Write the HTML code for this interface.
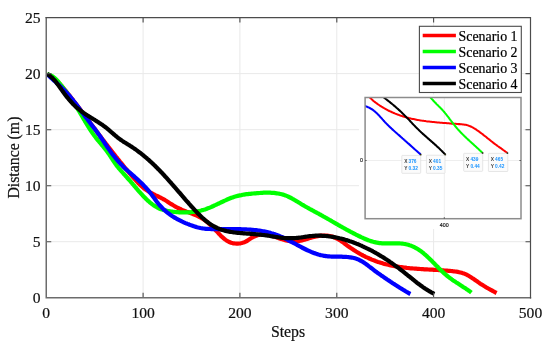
<!DOCTYPE html>
<html><head><meta charset="utf-8"><title>Distance vs Steps</title>
<style>html,body{margin:0;padding:0;background:#fff}svg{display:block}</style></head>
<body>
<svg width="550" height="348" viewBox="0 0 550 348">
<rect width="550" height="348" fill="#fff"/>
<path d="M143.1,17.6 V297.75 M239.9,17.6 V297.75 M336.8,17.6 V297.75 M433.6,17.6 V297.75 M46.25,241.7 H530.5 M46.25,185.7 H530.5 M46.25,129.7 H530.5 M46.25,73.6 H530.5" stroke="#e9e9e9" stroke-width="1" fill="none"/>
<path d="M47.2,74.1 L48.4,74.7 L49.6,75.3 L50.8,76.0 L51.9,76.7 L53.0,77.5 L54.0,78.3 L55.0,79.2 L56.0,80.1 L57.0,81.0 L57.9,82.0 L58.9,83.0 L59.8,84.0 L60.7,85.0 L61.6,86.0 L62.5,87.0 L63.4,88.1 L64.2,89.1 L65.1,90.1 L65.9,91.2 L66.8,92.2 L67.6,93.3 L68.5,94.3 L69.3,95.4 L70.1,96.4 L71.0,97.5 L71.8,98.5 L72.6,99.6 L73.4,100.7 L74.2,101.7 L75.1,102.8 L75.9,103.9 L76.7,104.9 L77.5,106.0 L78.3,107.1 L79.1,108.1 L79.9,109.2 L80.8,110.3 L81.6,111.3 L82.4,112.4 L83.2,113.5 L84.0,114.6 L84.8,115.6 L85.6,116.7 L86.4,117.8 L87.2,118.9 L88.0,119.9 L88.8,121.0 L89.6,122.1 L90.4,123.2 L91.2,124.2 L92.0,125.3 L92.8,126.4 L93.7,127.5 L94.5,128.5 L95.3,129.6 L96.1,130.7 L96.9,131.8 L97.7,132.8 L98.5,133.9 L99.3,135.0 L100.1,136.1 L100.9,137.1 L101.7,138.2 L102.5,139.3 L103.4,140.3 L104.2,141.4 L105.0,142.5 L105.8,143.6 L106.6,144.6 L107.4,145.7 L108.3,146.8 L109.1,147.8 L109.9,148.9 L110.7,149.9 L111.6,151.0 L112.4,152.1 L113.2,153.1 L114.0,154.2 L114.9,155.2 L115.7,156.3 L116.6,157.4 L117.4,158.4 L118.2,159.5 L119.1,160.5 L119.9,161.6 L120.8,162.6 L121.6,163.6 L122.5,164.7 L123.3,165.7 L124.2,166.8 L125.0,167.8 L125.9,168.8 L126.8,169.9 L127.6,170.9 L128.5,171.9 L129.4,173.0 L130.3,174.0 L131.1,175.0 L132.0,176.0 L132.9,177.1 L133.8,178.1 L134.7,179.1 L135.6,180.1 L136.5,181.1 L137.4,182.1 L138.3,183.1 L139.3,184.0 L140.2,185.0 L141.2,185.9 L142.2,186.8 L143.2,187.7 L144.2,188.5 L145.3,189.3 L146.4,190.1 L147.5,190.8 L148.6,191.5 L149.8,192.2 L150.9,192.9 L152.1,193.5 L153.3,194.1 L154.5,194.7 L155.7,195.3 L157.0,195.9 L158.2,196.5 L159.4,197.1 L160.6,197.7 L161.8,198.3 L163.0,199.0 L164.2,199.6 L165.3,200.3 L166.5,201.0 L167.6,201.7 L168.7,202.5 L169.8,203.2 L170.9,203.9 L172.1,204.6 L173.2,205.3 L174.4,206.0 L175.5,206.7 L176.7,207.3 L177.9,207.9 L179.1,208.5 L180.3,209.0 L181.6,209.6 L182.8,210.1 L184.1,210.6 L185.4,211.1 L186.6,211.6 L187.9,212.1 L189.2,212.5 L190.4,213.0 L191.7,213.5 L193.0,214.0 L194.2,214.6 L195.4,215.1 L196.7,215.6 L197.9,216.2 L199.1,216.8 L200.3,217.4 L201.4,218.1 L202.6,218.8 L203.7,219.5 L204.8,220.2 L205.8,221.0 L206.9,221.8 L207.9,222.7 L208.9,223.6 L209.9,224.5 L210.9,225.4 L211.8,226.3 L212.8,227.3 L213.8,228.3 L214.7,229.3 L215.6,230.2 L216.6,231.2 L217.5,232.2 L218.4,233.2 L219.4,234.2 L220.3,235.2 L221.3,236.2 L222.3,237.1 L223.3,238.0 L224.3,238.8 L225.3,239.6 L226.4,240.4 L227.5,241.1 L228.7,241.7 L229.9,242.2 L231.1,242.7 L232.4,243.1 L233.7,243.3 L235.1,243.5 L236.5,243.6 L237.9,243.6 L239.2,243.5 L240.6,243.3 L241.9,243.0 L243.3,242.6 L244.5,242.2 L245.7,241.6 L246.9,241.0 L248.0,240.2 L249.1,239.5 L250.2,238.8 L251.4,238.0 L252.5,237.4 L253.7,236.7 L254.9,236.2 L256.2,235.7 L257.4,235.2 L258.7,234.9 L260.0,234.6 L261.3,234.4 L262.6,234.3 L263.9,234.3 L265.2,234.4 L266.5,234.5 L267.8,234.8 L269.1,235.1 L270.4,235.4 L271.7,235.8 L273.0,236.2 L274.3,236.6 L275.7,237.1 L277.0,237.6 L278.3,238.0 L279.6,238.5 L280.9,238.9 L282.3,239.3 L283.6,239.7 L284.9,240.1 L286.2,240.4 L287.5,240.7 L288.9,240.9 L290.2,241.1 L291.5,241.3 L292.8,241.4 L294.1,241.4 L295.4,241.4 L296.7,241.3 L298.0,241.2 L299.3,240.9 L300.6,240.7 L301.9,240.4 L303.3,240.0 L304.6,239.7 L305.9,239.3 L307.2,238.9 L308.5,238.5 L309.8,238.1 L311.1,237.7 L312.4,237.3 L313.8,236.9 L315.1,236.6 L316.5,236.3 L317.8,236.1 L319.1,235.9 L320.5,235.7 L321.8,235.6 L323.2,235.5 L324.5,235.5 L325.8,235.5 L327.1,235.6 L328.4,235.8 L329.7,236.0 L331.0,236.3 L332.2,236.6 L333.4,237.0 L334.6,237.5 L335.8,238.0 L337.0,238.6 L338.1,239.2 L339.3,239.9 L340.4,240.6 L341.5,241.4 L342.6,242.1 L343.7,242.9 L344.8,243.7 L345.9,244.5 L347.0,245.4 L348.2,246.2 L349.3,247.0 L350.4,247.8 L351.5,248.5 L352.7,249.3 L353.8,250.1 L355.0,250.8 L356.1,251.5 L357.3,252.2 L358.5,252.9 L359.6,253.6 L360.8,254.3 L362.0,254.9 L363.2,255.6 L364.4,256.2 L365.6,256.8 L366.9,257.4 L368.1,257.9 L369.3,258.5 L370.5,259.0 L371.8,259.6 L373.0,260.1 L374.3,260.5 L375.5,261.0 L376.8,261.5 L378.0,261.9 L379.3,262.3 L380.6,262.7 L381.9,263.1 L383.1,263.5 L384.4,263.9 L385.7,264.2 L387.0,264.5 L388.3,264.8 L389.6,265.1 L390.9,265.4 L392.2,265.7 L393.5,265.9 L394.8,266.2 L396.1,266.4 L397.5,266.6 L398.8,266.8 L400.1,267.0 L401.4,267.2 L402.8,267.4 L404.1,267.6 L405.4,267.7 L406.8,267.9 L408.1,268.0 L409.4,268.2 L410.8,268.3 L412.1,268.4 L413.5,268.5 L414.8,268.6 L416.2,268.7 L417.5,268.8 L418.9,268.9 L420.2,269.0 L421.6,269.1 L422.9,269.2 L424.3,269.3 L425.6,269.3 L427.0,269.4 L428.3,269.5 L429.7,269.6 L431.0,269.6 L432.4,269.7 L433.7,269.8 L435.1,269.9 L436.4,269.9 L437.8,270.0 L439.1,270.1 L440.5,270.2 L441.8,270.3 L443.2,270.4 L444.5,270.5 L445.9,270.6 L447.2,270.7 L448.5,270.8 L449.9,270.9 L451.2,271.0 L452.6,271.2 L453.9,271.3 L455.2,271.5 L456.5,271.7 L457.8,271.9 L459.1,272.2 L460.4,272.5 L461.7,272.8 L462.9,273.2 L464.2,273.6 L465.4,274.1 L466.6,274.7 L467.8,275.3 L469.0,276.0 L470.2,276.7 L471.3,277.4 L472.4,278.2 L473.6,278.9 L474.7,279.7 L475.8,280.5 L477.0,281.3 L478.1,282.1 L479.2,282.9 L480.3,283.7 L481.5,284.4 L482.6,285.1 L483.7,285.8 L484.9,286.5 L486.0,287.2 L487.2,287.9 L488.3,288.5 L489.5,289.2 L490.7,289.8 L491.8,290.4 L493.0,291.1 L494.2,291.7 L495.4,292.4 L496.6,293.0" stroke="#ff0000" stroke-width="4.2" fill="none" stroke-linejoin="round" stroke-linecap="butt"/>
<path d="M47.2,74.1 L48.5,74.5 L49.7,74.9 L50.9,75.5 L52.0,76.1 L53.1,76.8 L54.1,77.6 L55.1,78.4 L56.0,79.3 L56.9,80.2 L57.8,81.2 L58.7,82.2 L59.5,83.2 L60.3,84.3 L61.2,85.3 L62.0,86.3 L62.8,87.4 L63.6,88.4 L64.4,89.5 L65.2,90.5 L66.0,91.6 L66.8,92.6 L67.6,93.7 L68.3,94.7 L69.1,95.8 L69.9,96.9 L70.6,97.9 L71.4,99.0 L72.1,100.1 L72.8,101.2 L73.6,102.2 L74.3,103.3 L75.0,104.4 L75.7,105.5 L76.4,106.6 L77.1,107.8 L77.7,108.9 L78.4,110.0 L79.1,111.1 L79.7,112.2 L80.4,113.4 L81.1,114.5 L81.7,115.6 L82.4,116.7 L83.0,117.9 L83.7,119.0 L84.4,120.1 L85.0,121.3 L85.7,122.4 L86.4,123.5 L87.0,124.6 L87.7,125.7 L88.4,126.8 L89.1,127.9 L89.8,129.0 L90.5,130.1 L91.2,131.2 L92.0,132.3 L92.7,133.4 L93.4,134.4 L94.2,135.5 L95.0,136.5 L95.8,137.6 L96.6,138.6 L97.4,139.6 L98.2,140.6 L99.1,141.6 L99.9,142.6 L100.8,143.6 L101.6,144.6 L102.4,145.6 L103.3,146.6 L104.1,147.7 L104.9,148.7 L105.7,149.7 L106.5,150.7 L107.3,151.8 L108.1,152.9 L108.8,153.9 L109.6,155.0 L110.3,156.1 L111.0,157.2 L111.7,158.2 L112.4,159.3 L113.1,160.4 L113.9,161.5 L114.6,162.6 L115.3,163.7 L116.1,164.7 L116.8,165.7 L117.6,166.8 L118.4,167.8 L119.3,168.8 L120.1,169.8 L121.0,170.7 L121.8,171.7 L122.7,172.7 L123.6,173.6 L124.4,174.6 L125.3,175.5 L126.2,176.5 L127.0,177.5 L127.9,178.5 L128.8,179.5 L129.6,180.4 L130.5,181.4 L131.3,182.4 L132.2,183.4 L133.0,184.4 L133.9,185.4 L134.7,186.4 L135.6,187.4 L136.4,188.4 L137.3,189.4 L138.1,190.4 L139.0,191.4 L139.9,192.3 L140.8,193.3 L141.7,194.3 L142.5,195.3 L143.4,196.2 L144.4,197.2 L145.3,198.1 L146.2,199.1 L147.2,200.0 L148.1,200.9 L149.1,201.7 L150.1,202.6 L151.1,203.4 L152.1,204.2 L153.1,204.9 L154.2,205.7 L155.3,206.3 L156.4,207.0 L157.5,207.6 L158.6,208.2 L159.8,208.7 L161.0,209.2 L162.2,209.6 L163.5,210.0 L164.7,210.3 L166.0,210.6 L167.3,210.9 L168.6,211.1 L169.9,211.3 L171.2,211.5 L172.6,211.7 L173.9,211.8 L175.2,212.0 L176.5,212.1 L177.9,212.2 L179.2,212.3 L180.5,212.3 L181.8,212.4 L183.1,212.4 L184.5,212.4 L185.8,212.4 L187.1,212.4 L188.4,212.3 L189.7,212.3 L191.0,212.2 L192.3,212.0 L193.6,211.9 L194.9,211.7 L196.2,211.5 L197.4,211.3 L198.7,211.0 L200.0,210.8 L201.2,210.5 L202.5,210.1 L203.7,209.8 L205.0,209.4 L206.2,209.0 L207.4,208.5 L208.6,208.1 L209.8,207.6 L211.0,207.1 L212.3,206.5 L213.4,206.0 L214.6,205.4 L215.8,204.9 L217.0,204.3 L218.2,203.7 L219.4,203.2 L220.6,202.6 L221.8,202.0 L223.0,201.5 L224.2,200.9 L225.4,200.4 L226.6,199.8 L227.8,199.3 L229.0,198.8 L230.2,198.3 L231.4,197.8 L232.6,197.4 L233.8,197.0 L235.1,196.6 L236.3,196.2 L237.6,195.9 L238.8,195.6 L240.1,195.3 L241.4,195.1 L242.7,194.8 L243.9,194.6 L245.2,194.4 L246.5,194.2 L247.8,194.1 L249.1,193.9 L250.4,193.8 L251.7,193.6 L253.1,193.5 L254.4,193.4 L255.7,193.3 L257.0,193.2 L258.3,193.1 L259.6,193.0 L261.0,192.9 L262.3,192.8 L263.6,192.7 L264.9,192.7 L266.2,192.7 L267.6,192.7 L268.9,192.7 L270.2,192.7 L271.5,192.8 L272.8,192.8 L274.1,192.9 L275.4,193.1 L276.7,193.3 L277.9,193.5 L279.2,193.7 L280.5,194.0 L281.7,194.3 L283.0,194.6 L284.2,195.0 L285.4,195.4 L286.6,195.9 L287.8,196.4 L289.0,197.0 L290.1,197.5 L291.3,198.1 L292.5,198.8 L293.6,199.4 L294.7,200.1 L295.9,200.8 L297.0,201.4 L298.1,202.1 L299.3,202.8 L300.4,203.5 L301.5,204.2 L302.6,204.9 L303.8,205.5 L304.9,206.2 L306.1,206.9 L307.2,207.5 L308.3,208.1 L309.5,208.8 L310.6,209.4 L311.8,210.0 L312.9,210.6 L314.1,211.3 L315.2,211.9 L316.4,212.5 L317.5,213.1 L318.7,213.7 L319.8,214.4 L321.0,215.0 L322.1,215.7 L323.2,216.3 L324.4,216.9 L325.5,217.6 L326.6,218.2 L327.8,218.9 L328.9,219.5 L330.1,220.2 L331.2,220.8 L332.3,221.5 L333.5,222.2 L334.6,222.8 L335.7,223.5 L336.9,224.1 L338.0,224.8 L339.1,225.4 L340.3,226.1 L341.4,226.7 L342.6,227.4 L343.7,228.0 L344.8,228.6 L346.0,229.3 L347.1,229.9 L348.3,230.5 L349.4,231.1 L350.6,231.8 L351.8,232.4 L352.9,233.0 L354.1,233.6 L355.2,234.2 L356.4,234.8 L357.6,235.4 L358.8,236.0 L359.9,236.5 L361.1,237.1 L362.3,237.6 L363.5,238.2 L364.7,238.7 L365.9,239.2 L367.1,239.7 L368.3,240.2 L369.5,240.6 L370.7,241.1 L372.0,241.4 L373.2,241.8 L374.5,242.1 L375.7,242.4 L377.0,242.7 L378.3,242.9 L379.5,243.1 L380.8,243.2 L382.1,243.3 L383.4,243.3 L384.8,243.4 L386.1,243.4 L387.4,243.4 L388.7,243.4 L390.1,243.3 L391.4,243.3 L392.7,243.3 L394.1,243.3 L395.4,243.3 L396.7,243.3 L398.0,243.4 L399.3,243.4 L400.7,243.5 L402.0,243.6 L403.2,243.8 L404.5,244.0 L405.8,244.2 L407.1,244.5 L408.3,244.8 L409.5,245.2 L410.8,245.6 L412.0,246.1 L413.1,246.6 L414.3,247.2 L415.5,247.8 L416.6,248.4 L417.7,249.1 L418.8,249.8 L419.9,250.6 L421.0,251.3 L422.1,252.1 L423.1,252.9 L424.1,253.8 L425.1,254.6 L426.1,255.5 L427.1,256.4 L428.0,257.3 L429.0,258.2 L429.9,259.1 L430.9,260.0 L431.8,260.9 L432.7,261.9 L433.6,262.8 L434.5,263.7 L435.4,264.7 L436.3,265.6 L437.3,266.5 L438.2,267.5 L439.1,268.4 L440.0,269.3 L440.9,270.2 L441.9,271.1 L442.8,272.0 L443.7,272.9 L444.7,273.8 L445.7,274.6 L446.7,275.5 L447.7,276.3 L448.7,277.1 L449.7,277.9 L450.8,278.6 L451.8,279.4 L452.9,280.2 L454.0,280.9 L455.1,281.6 L456.2,282.4 L457.3,283.1 L458.4,283.8 L459.5,284.5 L460.6,285.2 L461.7,285.9 L462.8,286.7 L463.9,287.4 L465.0,288.1 L466.1,288.8 L467.1,289.6 L468.2,290.3 L469.3,291.1 L470.4,291.8 L471.4,292.6" stroke="#00ff00" stroke-width="4.2" fill="none" stroke-linejoin="round" stroke-linecap="butt"/>
<path d="M47.2,74.1 L48.0,74.9 L48.8,75.7 L49.6,76.4 L50.4,77.2 L51.2,78.0 L52.1,78.7 L52.9,79.5 L53.7,80.3 L54.5,81.0 L55.4,81.8 L56.2,82.5 L57.0,83.3 L57.8,84.1 L58.7,84.8 L59.5,85.6 L60.3,86.3 L61.1,87.1 L61.9,87.9 L62.7,88.7 L63.5,89.5 L64.3,90.3 L65.1,91.1 L65.9,91.9 L66.6,92.7 L67.4,93.5 L68.1,94.3 L68.9,95.2 L69.6,96.0 L70.3,96.8 L71.0,97.7 L71.7,98.6 L72.4,99.4 L73.1,100.3 L73.8,101.2 L74.5,102.1 L75.2,103.0 L75.9,103.8 L76.6,104.7 L77.2,105.6 L77.9,106.5 L78.6,107.4 L79.2,108.3 L79.9,109.2 L80.5,110.2 L81.2,111.1 L81.9,112.0 L82.5,112.9 L83.2,113.8 L83.9,114.7 L84.5,115.6 L85.2,116.5 L85.9,117.4 L86.6,118.3 L87.2,119.1 L87.9,120.0 L88.6,120.9 L89.3,121.8 L90.0,122.7 L90.6,123.6 L91.3,124.5 L92.0,125.4 L92.7,126.3 L93.4,127.1 L94.0,128.0 L94.7,128.9 L95.4,129.8 L96.1,130.7 L96.7,131.6 L97.4,132.5 L98.0,133.4 L98.7,134.3 L99.4,135.2 L100.0,136.1 L100.6,137.1 L101.3,138.0 L101.9,138.9 L102.5,139.8 L103.2,140.8 L103.8,141.7 L104.4,142.6 L105.0,143.6 L105.7,144.5 L106.3,145.4 L106.9,146.4 L107.5,147.3 L108.2,148.2 L108.8,149.1 L109.5,150.0 L110.1,151.0 L110.8,151.9 L111.4,152.8 L112.1,153.7 L112.8,154.6 L113.5,155.5 L114.2,156.3 L114.9,157.2 L115.6,158.1 L116.3,159.0 L117.0,159.8 L117.7,160.7 L118.4,161.5 L119.2,162.4 L119.9,163.2 L120.7,164.0 L121.4,164.8 L122.2,165.6 L123.0,166.4 L123.8,167.2 L124.6,168.0 L125.4,168.8 L126.2,169.5 L127.1,170.3 L127.9,171.0 L128.8,171.8 L129.6,172.5 L130.5,173.2 L131.3,174.0 L132.2,174.7 L133.0,175.5 L133.9,176.2 L134.7,176.9 L135.5,177.7 L136.4,178.4 L137.2,179.2 L138.0,179.9 L138.9,180.7 L139.7,181.5 L140.5,182.2 L141.3,183.0 L142.1,183.8 L142.9,184.6 L143.7,185.4 L144.4,186.2 L145.2,187.0 L146.0,187.8 L146.7,188.6 L147.4,189.5 L148.2,190.3 L148.9,191.2 L149.6,192.0 L150.3,192.9 L151.0,193.8 L151.7,194.7 L152.4,195.6 L153.0,196.5 L153.7,197.4 L154.4,198.4 L155.0,199.3 L155.7,200.2 L156.4,201.1 L157.0,202.0 L157.7,202.9 L158.4,203.8 L159.1,204.6 L159.9,205.5 L160.6,206.3 L161.4,207.1 L162.2,207.9 L162.9,208.7 L163.7,209.5 L164.6,210.2 L165.4,210.9 L166.3,211.7 L167.1,212.4 L168.0,213.1 L168.9,213.7 L169.8,214.4 L170.7,215.0 L171.6,215.7 L172.5,216.3 L173.5,216.9 L174.4,217.5 L175.4,218.0 L176.3,218.6 L177.3,219.1 L178.3,219.7 L179.3,220.2 L180.3,220.7 L181.3,221.2 L182.3,221.7 L183.4,222.2 L184.4,222.6 L185.4,223.1 L186.5,223.5 L187.5,223.9 L188.6,224.3 L189.6,224.7 L190.7,225.1 L191.8,225.5 L192.8,225.9 L193.9,226.2 L195.0,226.6 L196.1,226.9 L197.1,227.2 L198.2,227.5 L199.3,227.7 L200.4,228.0 L201.5,228.2 L202.6,228.4 L203.7,228.5 L204.7,228.7 L205.8,228.8 L206.9,228.9 L208.0,228.9 L209.1,229.0 L210.2,229.0 L211.3,229.1 L212.4,229.1 L213.6,229.1 L214.7,229.2 L215.8,229.2 L216.9,229.2 L218.0,229.2 L219.1,229.2 L220.2,229.2 L221.4,229.2 L222.5,229.2 L223.6,229.2 L224.7,229.2 L225.9,229.2 L227.0,229.2 L228.1,229.2 L229.3,229.2 L230.4,229.2 L231.5,229.2 L232.6,229.2 L233.8,229.2 L234.9,229.2 L236.0,229.2 L237.2,229.2 L238.3,229.2 L239.4,229.2 L240.5,229.2 L241.7,229.3 L242.8,229.3 L243.9,229.3 L245.1,229.4 L246.2,229.4 L247.3,229.5 L248.4,229.5 L249.5,229.6 L250.7,229.7 L251.8,229.8 L252.9,229.9 L254.0,230.0 L255.1,230.1 L256.2,230.2 L257.3,230.3 L258.4,230.5 L259.5,230.6 L260.6,230.8 L261.7,231.0 L262.8,231.2 L263.9,231.4 L265.0,231.6 L266.1,231.8 L267.2,232.0 L268.2,232.3 L269.3,232.6 L270.4,232.9 L271.4,233.2 L272.5,233.5 L273.5,233.8 L274.6,234.1 L275.6,234.5 L276.7,234.9 L277.7,235.3 L278.8,235.7 L279.8,236.1 L280.8,236.6 L281.8,237.0 L282.9,237.5 L283.9,238.0 L284.9,238.4 L285.9,238.9 L286.9,239.4 L287.9,240.0 L288.9,240.5 L289.9,241.0 L290.9,241.5 L291.9,242.1 L292.9,242.6 L293.9,243.2 L294.9,243.7 L295.9,244.2 L296.9,244.8 L297.9,245.3 L298.9,245.9 L299.9,246.4 L300.9,246.9 L301.9,247.5 L302.9,248.0 L303.9,248.5 L304.9,249.0 L305.9,249.5 L306.9,250.0 L308.0,250.5 L309.0,250.9 L310.0,251.4 L311.0,251.8 L312.1,252.3 L313.1,252.7 L314.1,253.1 L315.2,253.4 L316.2,253.8 L317.3,254.1 L318.3,254.5 L319.4,254.8 L320.5,255.1 L321.5,255.3 L322.6,255.5 L323.7,255.8 L324.8,255.9 L325.9,256.1 L327.0,256.2 L328.1,256.4 L329.2,256.4 L330.4,256.5 L331.5,256.6 L332.6,256.6 L333.8,256.6 L334.9,256.7 L336.0,256.7 L337.2,256.7 L338.3,256.7 L339.5,256.7 L340.6,256.7 L341.7,256.7 L342.9,256.8 L344.0,256.8 L345.1,256.9 L346.2,256.9 L347.3,257.0 L348.4,257.1 L349.5,257.3 L350.6,257.4 L351.7,257.6 L352.8,257.8 L353.8,258.0 L354.9,258.3 L355.9,258.6 L357.0,259.0 L358.0,259.4 L359.0,259.8 L360.0,260.3 L360.9,260.8 L361.9,261.4 L362.9,261.9 L363.8,262.5 L364.7,263.2 L365.7,263.8 L366.6,264.5 L367.5,265.2 L368.4,265.9 L369.3,266.6 L370.3,267.3 L371.2,268.0 L372.1,268.7 L373.0,269.4 L373.9,270.1 L374.8,270.8 L375.7,271.5 L376.6,272.1 L377.5,272.8 L378.4,273.4 L379.4,274.1 L380.3,274.7 L381.2,275.4 L382.1,276.0 L383.0,276.6 L384.0,277.3 L384.9,277.9 L385.8,278.5 L386.7,279.2 L387.6,279.8 L388.6,280.4 L389.5,281.0 L390.4,281.7 L391.4,282.3 L392.3,282.9 L393.2,283.5 L394.2,284.1 L395.1,284.7 L396.0,285.3 L397.0,285.9 L397.9,286.5 L398.8,287.1 L399.8,287.7 L400.7,288.3 L401.7,288.9 L402.7,289.5 L403.6,290.1 L404.6,290.6 L405.5,291.2 L406.5,291.8 L407.5,292.3 L408.4,292.9 L409.4,293.5 L410.4,294.0" stroke="#0000ff" stroke-width="4.2" fill="none" stroke-linejoin="round" stroke-linecap="butt"/>
<path d="M47.2,74.1 L48.2,74.7 L49.2,75.3 L50.1,76.0 L51.0,76.8 L51.9,77.5 L52.7,78.3 L53.5,79.2 L54.3,80.0 L55.1,80.9 L55.8,81.8 L56.5,82.7 L57.2,83.7 L57.9,84.6 L58.6,85.6 L59.3,86.5 L60.0,87.5 L60.7,88.5 L61.3,89.4 L62.0,90.4 L62.7,91.4 L63.4,92.3 L64.1,93.3 L64.8,94.2 L65.5,95.1 L66.2,96.1 L66.9,97.0 L67.7,97.9 L68.4,98.8 L69.1,99.7 L69.9,100.6 L70.7,101.4 L71.4,102.3 L72.2,103.1 L73.0,104.0 L73.8,104.8 L74.7,105.6 L75.5,106.4 L76.3,107.2 L77.2,108.0 L78.1,108.7 L79.0,109.4 L79.9,110.2 L80.8,110.9 L81.7,111.6 L82.7,112.2 L83.6,112.9 L84.6,113.6 L85.5,114.2 L86.5,114.9 L87.5,115.5 L88.5,116.1 L89.5,116.7 L90.5,117.4 L91.5,118.0 L92.5,118.6 L93.5,119.2 L94.5,119.8 L95.5,120.5 L96.5,121.1 L97.5,121.7 L98.5,122.3 L99.4,123.0 L100.4,123.6 L101.4,124.3 L102.4,124.9 L103.3,125.6 L104.2,126.3 L105.2,127.0 L106.1,127.7 L107.0,128.4 L107.9,129.2 L108.8,129.9 L109.7,130.7 L110.5,131.4 L111.4,132.2 L112.3,133.0 L113.2,133.7 L114.0,134.5 L114.9,135.2 L115.8,136.0 L116.7,136.7 L117.6,137.5 L118.5,138.2 L119.5,138.9 L120.4,139.6 L121.4,140.2 L122.3,140.9 L123.3,141.6 L124.3,142.2 L125.3,142.8 L126.3,143.4 L127.4,144.1 L128.4,144.7 L129.4,145.3 L130.4,146.0 L131.4,146.6 L132.3,147.2 L133.3,147.9 L134.3,148.6 L135.3,149.2 L136.2,149.9 L137.2,150.6 L138.1,151.3 L139.0,152.0 L140.0,152.7 L140.9,153.4 L141.8,154.1 L142.7,154.8 L143.6,155.6 L144.5,156.3 L145.4,157.1 L146.3,157.8 L147.1,158.6 L148.0,159.3 L148.9,160.1 L149.7,160.9 L150.6,161.7 L151.4,162.4 L152.3,163.2 L153.1,164.0 L153.9,164.8 L154.8,165.6 L155.6,166.4 L156.4,167.3 L157.2,168.1 L158.0,168.9 L158.9,169.7 L159.7,170.6 L160.5,171.4 L161.3,172.2 L162.1,173.1 L162.9,173.9 L163.6,174.8 L164.4,175.6 L165.2,176.5 L166.0,177.3 L166.8,178.2 L167.6,179.1 L168.3,179.9 L169.1,180.8 L169.9,181.7 L170.7,182.5 L171.4,183.4 L172.2,184.3 L173.0,185.2 L173.7,186.1 L174.5,186.9 L175.3,187.8 L176.0,188.7 L176.8,189.6 L177.6,190.5 L178.3,191.4 L179.1,192.3 L179.9,193.1 L180.6,194.0 L181.4,194.9 L182.2,195.8 L182.9,196.7 L183.7,197.6 L184.5,198.5 L185.2,199.4 L186.0,200.3 L186.8,201.2 L187.6,202.0 L188.4,202.9 L189.1,203.8 L189.9,204.7 L190.7,205.6 L191.5,206.5 L192.3,207.3 L193.1,208.2 L193.9,209.1 L194.7,210.0 L195.5,210.8 L196.3,211.7 L197.1,212.6 L197.9,213.4 L198.8,214.3 L199.6,215.1 L200.4,215.9 L201.3,216.7 L202.1,217.5 L203.0,218.3 L203.9,219.1 L204.7,219.9 L205.6,220.6 L206.5,221.3 L207.4,222.0 L208.3,222.7 L209.3,223.4 L210.2,224.1 L211.2,224.7 L212.1,225.3 L213.1,225.9 L214.1,226.5 L215.1,227.0 L216.1,227.5 L217.1,228.0 L218.2,228.4 L219.2,228.9 L220.3,229.3 L221.4,229.7 L222.5,230.0 L223.6,230.3 L224.7,230.6 L225.8,230.9 L226.9,231.2 L228.1,231.4 L229.2,231.6 L230.4,231.9 L231.6,232.0 L232.7,232.2 L233.9,232.4 L235.1,232.5 L236.3,232.7 L237.5,232.8 L238.7,232.9 L239.9,233.0 L241.1,233.1 L242.2,233.2 L243.4,233.3 L244.6,233.4 L245.8,233.5 L247.0,233.6 L248.2,233.6 L249.4,233.7 L250.5,233.8 L251.7,233.9 L252.9,234.0 L254.0,234.1 L255.2,234.2 L256.3,234.3 L257.5,234.4 L258.6,234.5 L259.8,234.6 L260.9,234.7 L262.1,234.9 L263.2,235.0 L264.3,235.1 L265.5,235.3 L266.6,235.4 L267.8,235.6 L268.9,235.8 L270.0,236.0 L271.2,236.2 L272.3,236.4 L273.5,236.6 L274.6,236.8 L275.8,237.0 L277.0,237.1 L278.1,237.3 L279.3,237.5 L280.4,237.6 L281.6,237.8 L282.8,237.9 L283.9,238.0 L285.1,238.1 L286.3,238.1 L287.4,238.2 L288.6,238.2 L289.8,238.2 L290.9,238.2 L292.1,238.2 L293.3,238.2 L294.4,238.1 L295.6,238.0 L296.8,237.9 L297.9,237.8 L299.1,237.7 L300.2,237.5 L301.4,237.4 L302.6,237.2 L303.7,237.0 L304.9,236.8 L306.1,236.7 L307.2,236.5 L308.4,236.3 L309.5,236.2 L310.7,236.1 L311.9,236.0 L313.0,235.9 L314.2,235.8 L315.4,235.7 L316.5,235.7 L317.7,235.7 L318.8,235.7 L320.0,235.7 L321.2,235.7 L322.3,235.8 L323.5,235.8 L324.6,235.9 L325.8,236.0 L327.0,236.1 L328.1,236.2 L329.3,236.4 L330.4,236.5 L331.6,236.7 L332.7,236.9 L333.9,237.1 L335.0,237.3 L336.2,237.5 L337.3,237.7 L338.4,238.0 L339.6,238.3 L340.7,238.5 L341.8,238.8 L343.0,239.1 L344.1,239.4 L345.2,239.8 L346.3,240.1 L347.5,240.4 L348.6,240.8 L349.7,241.2 L350.8,241.5 L351.9,241.9 L353.0,242.3 L354.1,242.7 L355.2,243.1 L356.3,243.6 L357.4,244.0 L358.4,244.4 L359.5,244.9 L360.6,245.4 L361.7,245.8 L362.7,246.3 L363.8,246.8 L364.8,247.3 L365.9,247.8 L366.9,248.3 L368.0,248.8 L369.0,249.3 L370.1,249.9 L371.1,250.4 L372.1,250.9 L373.1,251.5 L374.2,252.1 L375.2,252.6 L376.2,253.2 L377.2,253.8 L378.2,254.4 L379.2,255.0 L380.2,255.6 L381.2,256.2 L382.2,256.8 L383.2,257.4 L384.2,258.0 L385.2,258.7 L386.1,259.3 L387.1,259.9 L388.1,260.6 L389.1,261.2 L390.0,261.9 L391.0,262.6 L391.9,263.2 L392.9,263.9 L393.9,264.6 L394.8,265.3 L395.7,266.0 L396.7,266.6 L397.6,267.3 L398.6,268.0 L399.5,268.8 L400.4,269.5 L401.3,270.2 L402.3,270.9 L403.2,271.6 L404.1,272.3 L405.0,273.1 L405.9,273.8 L406.8,274.5 L407.7,275.3 L408.6,276.0 L409.5,276.7 L410.5,277.5 L411.4,278.2 L412.3,278.9 L413.2,279.7 L414.1,280.4 L415.0,281.1 L415.9,281.8 L416.8,282.6 L417.7,283.3 L418.7,284.0 L419.6,284.7 L420.5,285.4 L421.5,286.0 L422.4,286.7 L423.4,287.4 L424.3,288.0 L425.3,288.7 L426.3,289.3 L427.2,289.9 L428.2,290.5 L429.2,291.1 L430.2,291.7 L431.3,292.3 L432.3,292.8 L433.3,293.4 L434.4,293.9" stroke="#000000" stroke-width="4.2" fill="none" stroke-linejoin="round" stroke-linecap="butt"/>
<path d="M143.1,297.75 v-5 M143.1,17.6 v5 M239.9,297.75 v-5 M239.9,17.6 v5 M336.8,297.75 v-5 M336.8,17.6 v5 M433.6,297.75 v-5 M433.6,17.6 v5 M46.25,241.7 h5 M530.5,241.7 h-5 M46.25,185.7 h5 M530.5,185.7 h-5 M46.25,129.7 h5 M530.5,129.7 h-5 M46.25,73.6 h5 M530.5,73.6 h-5" stroke="#4a4a4a" stroke-width="1.1" fill="none"/>
<path d="M46.25,16.900000000000002 V297.75 H531.2" fill="none" stroke="#6c6c6c" stroke-width="1.5"/>
<path d="M45.55,17.6 H530.5 V298.45" fill="none" stroke="#4c4c4c" stroke-width="1.2"/>
<g font-family="'Liberation Serif', serif" font-size="15.6" fill="#111" stroke="#111" stroke-width="0.2">
<text x="46.2" y="317.5" text-anchor="middle">0</text>
<text x="143.1" y="317.5" text-anchor="middle">100</text>
<text x="239.9" y="317.5" text-anchor="middle">200</text>
<text x="336.8" y="317.5" text-anchor="middle">300</text>
<text x="433.6" y="317.5" text-anchor="middle">400</text>
<text x="530.5" y="317.5" text-anchor="middle">500</text>
<text x="40.5" y="303.4" text-anchor="end">0</text>
<text x="40.5" y="247.3" text-anchor="end">5</text>
<text x="40.5" y="191.3" text-anchor="end">10</text>
<text x="40.5" y="135.3" text-anchor="end">15</text>
<text x="40.5" y="79.2" text-anchor="end">20</text>
<text x="40.5" y="23.2" text-anchor="end">25</text>
</g>
<g font-family="'Liberation Serif', serif" font-size="15.8" fill="#111" stroke="#111" stroke-width="0.2">
<text x="288" y="336.6" text-anchor="middle">Steps</text>
<text transform="translate(19.2,157.6) rotate(-90)" text-anchor="middle">Distance (m)</text>
</g>
<rect x="419.4" y="26.3" width="101.9" height="66.2" fill="#fff" stroke="#4a4a4a" stroke-width="1.1"/>
<path d="M422.7,35.5 H455.9" stroke="#ff0000" stroke-width="3.6"/>
<text x="458.5" y="40.8" stroke="#000" stroke-width="0.2" font-family="'Liberation Serif', serif" font-size="13.9" fill="#000">Scenario 1</text>
<path d="M422.7,51.5 H455.9" stroke="#00ff00" stroke-width="3.6"/>
<text x="458.5" y="56.8" stroke="#000" stroke-width="0.2" font-family="'Liberation Serif', serif" font-size="13.9" fill="#000">Scenario 2</text>
<path d="M422.7,67.5 H455.9" stroke="#0000ff" stroke-width="3.6"/>
<text x="458.5" y="72.8" stroke="#000" stroke-width="0.2" font-family="'Liberation Serif', serif" font-size="13.9" fill="#000">Scenario 3</text>
<path d="M422.7,83.5 H455.9" stroke="#000000" stroke-width="3.6"/>
<text x="458.5" y="88.8" stroke="#000" stroke-width="0.2" font-family="'Liberation Serif', serif" font-size="13.9" fill="#000">Scenario 4</text>
<rect x="359" y="94.5" width="164.5" height="134.5" fill="#fff"/>
<path d="M444.3,97.5 V218.7 M365.1,160.5 H521.0" stroke="#eeeeee" stroke-width="1" fill="none"/>
<clipPath id="ic"><rect x="365.1" y="97.5" width="155.89999999999998" height="121.19999999999999"/></clipPath>
<g clip-path="url(#ic)">
<path d="M367.0,93.5 L367.5,94.3 L368.1,95.2 L368.7,96.0 L369.3,96.7 L370.0,97.5 L370.6,98.2 L371.3,98.9 L372.0,99.6 L372.7,100.2 L373.5,100.9 L374.2,101.5 L375.0,102.1 L375.8,102.7 L376.6,103.3 L377.4,103.9 L378.2,104.5 L379.0,105.0 L379.9,105.6 L380.7,106.1 L381.5,106.6 L382.4,107.1 L383.2,107.7 L384.1,108.2 L384.9,108.6 L385.8,109.1 L386.7,109.6 L387.6,110.1 L388.4,110.5 L389.3,111.0 L390.2,111.4 L391.1,111.8 L392.0,112.2 L392.9,112.6 L393.8,113.0 L394.7,113.4 L395.7,113.8 L396.6,114.1 L397.5,114.5 L398.4,114.8 L399.3,115.1 L400.3,115.5 L401.2,115.8 L402.1,116.1 L403.1,116.4 L404.0,116.7 L405.0,117.0 L405.9,117.2 L406.9,117.5 L407.8,117.7 L408.8,118.0 L409.7,118.2 L410.7,118.5 L411.6,118.7 L412.6,118.9 L413.6,119.1 L414.5,119.3 L415.5,119.5 L416.5,119.7 L417.4,119.9 L418.4,120.1 L419.4,120.2 L420.4,120.4 L421.3,120.6 L422.3,120.7 L423.3,120.8 L424.3,121.0 L425.3,121.1 L426.2,121.3 L427.2,121.4 L428.2,121.5 L429.2,121.6 L430.2,121.7 L431.2,121.8 L432.2,121.9 L433.1,122.0 L434.1,122.1 L435.1,122.2 L436.1,122.3 L437.1,122.4 L438.1,122.5 L439.1,122.6 L440.1,122.7 L441.0,122.7 L442.0,122.8 L443.0,122.9 L444.0,123.0 L445.0,123.0 L446.0,123.1 L446.9,123.2 L447.9,123.3 L448.9,123.3 L449.9,123.4 L450.9,123.5 L451.9,123.6 L452.9,123.6 L453.8,123.7 L454.8,123.8 L455.8,123.8 L456.8,123.9 L457.8,124.0 L458.8,124.1 L459.8,124.1 L460.8,124.2 L461.8,124.3 L462.8,124.4 L463.8,124.5 L464.7,124.7 L465.7,124.8 L466.7,125.1 L467.6,125.3 L468.5,125.6 L469.4,126.0 L470.3,126.3 L471.2,126.7 L472.1,127.2 L473.0,127.6 L473.8,128.1 L474.7,128.6 L475.5,129.2 L476.3,129.7 L477.2,130.3 L478.0,130.8 L478.8,131.4 L479.6,132.0 L480.4,132.6 L481.2,133.2 L482.0,133.8 L482.8,134.4 L483.5,135.0 L484.3,135.6 L485.1,136.2 L485.9,136.8 L486.7,137.5 L487.4,138.1 L488.2,138.7 L489.0,139.3 L489.7,139.9 L490.5,140.5 L491.3,141.2 L492.1,141.8 L492.8,142.4 L493.6,143.0 L494.4,143.6 L495.2,144.2 L496.0,144.8 L496.8,145.4 L497.6,146.0 L498.4,146.5 L499.2,147.1 L500.0,147.7 L500.8,148.2 L501.6,148.8 L502.4,149.4 L503.2,150.0 L504.0,150.5 L504.8,151.1 L505.6,151.7 L506.4,152.3 L507.2,152.9" stroke="#ff0000" stroke-width="2.05" fill="none"/>
<path d="M427.0,93.5 L427.3,93.9 L427.7,94.3 L428.0,94.7 L428.3,95.0 L428.7,95.4 L429.0,95.8 L429.3,96.2 L429.7,96.6 L430.0,97.0 L430.4,97.4 L430.7,97.7 L431.0,98.1 L431.4,98.5 L431.7,98.9 L432.1,99.3 L432.4,99.6 L432.8,100.0 L433.1,100.4 L433.4,100.8 L433.8,101.2 L434.1,101.5 L434.5,101.9 L434.8,102.3 L435.2,102.6 L435.6,103.0 L435.9,103.4 L436.3,103.7 L436.6,104.1 L437.0,104.5 L437.4,104.8 L437.7,105.2 L438.1,105.5 L438.4,105.9 L438.8,106.3 L439.2,106.6 L439.5,107.0 L439.9,107.3 L440.3,107.7 L440.6,108.1 L441.0,108.4 L441.3,108.8 L441.7,109.2 L442.0,109.5 L442.4,109.9 L442.7,110.3 L443.0,110.7 L443.4,111.1 L443.7,111.4 L444.0,111.8 L444.4,112.2 L444.7,112.6 L445.0,113.0 L445.3,113.4 L445.7,113.8 L446.0,114.2 L446.3,114.6 L446.6,115.0 L446.9,115.4 L447.2,115.8 L447.5,116.2 L447.9,116.6 L448.2,117.0 L448.5,117.4 L448.8,117.8 L449.1,118.2 L449.4,118.6 L449.7,119.1 L450.0,119.5 L450.3,119.9 L450.6,120.3 L450.9,120.7 L451.3,121.1 L451.6,121.5 L451.9,121.9 L452.2,122.3 L452.5,122.7 L452.8,123.1 L453.1,123.5 L453.4,123.9 L453.8,124.3 L454.1,124.7 L454.4,125.1 L454.7,125.5 L455.0,125.9 L455.3,126.3 L455.7,126.7 L456.0,127.1 L456.3,127.5 L456.7,127.9 L457.0,128.3 L457.3,128.7 L457.7,129.1 L458.0,129.4 L458.3,129.8 L458.7,130.2 L459.0,130.6 L459.4,130.9 L459.7,131.3 L460.1,131.7 L460.4,132.1 L460.8,132.4 L461.1,132.8 L461.5,133.2 L461.8,133.5 L462.2,133.9 L462.6,134.3 L462.9,134.6 L463.3,135.0 L463.7,135.3 L464.0,135.7 L464.4,136.0 L464.8,136.4 L465.1,136.8 L465.5,137.1 L465.9,137.5 L466.2,137.8 L466.6,138.2 L467.0,138.5 L467.4,138.9 L467.7,139.2 L468.1,139.6 L468.5,139.9 L468.9,140.3 L469.2,140.6 L469.6,141.0 L470.0,141.3 L470.4,141.7 L470.8,142.0 L471.1,142.3 L471.5,142.7 L471.9,143.0 L472.3,143.4 L472.7,143.7 L473.0,144.1 L473.4,144.4 L473.8,144.8 L474.2,145.1 L474.5,145.5 L474.9,145.8 L475.3,146.1 L475.7,146.5 L476.1,146.8 L476.4,147.2 L476.8,147.5 L477.2,147.9 L477.6,148.2 L478.0,148.6 L478.3,148.9 L478.7,149.3 L479.1,149.6 L479.4,150.0 L479.8,150.3 L480.2,150.7 L480.6,151.0 L480.9,151.4 L481.3,151.7 L481.7,152.1 L482.0,152.4 L482.4,152.8" stroke="#00ff00" stroke-width="2.05" fill="none"/>
<path d="M361.0,105.0 L361.5,105.1 L362.0,105.2 L362.5,105.3 L362.9,105.4 L363.4,105.6 L363.9,105.7 L364.4,105.8 L364.8,106.0 L365.3,106.1 L365.8,106.3 L366.2,106.4 L366.7,106.6 L367.1,106.8 L367.6,107.0 L368.0,107.2 L368.5,107.4 L368.9,107.6 L369.4,107.8 L369.8,108.0 L370.2,108.3 L370.6,108.5 L371.1,108.8 L371.5,109.0 L371.9,109.3 L372.3,109.5 L372.7,109.8 L373.1,110.1 L373.5,110.4 L373.9,110.7 L374.2,111.0 L374.6,111.3 L375.0,111.6 L375.3,111.9 L375.7,112.2 L376.1,112.6 L376.4,112.9 L376.8,113.2 L377.1,113.6 L377.5,113.9 L377.8,114.3 L378.2,114.6 L378.5,115.0 L378.9,115.3 L379.2,115.7 L379.5,116.1 L379.9,116.4 L380.2,116.8 L380.5,117.2 L380.9,117.5 L381.2,117.9 L381.5,118.3 L381.9,118.6 L382.2,119.0 L382.5,119.4 L382.9,119.8 L383.2,120.1 L383.5,120.5 L383.8,120.9 L384.2,121.2 L384.5,121.6 L384.9,122.0 L385.2,122.3 L385.5,122.7 L385.9,123.0 L386.2,123.4 L386.6,123.8 L386.9,124.1 L387.3,124.5 L387.6,124.8 L388.0,125.2 L388.3,125.5 L388.7,125.8 L389.0,126.2 L389.4,126.5 L389.7,126.9 L390.1,127.2 L390.4,127.5 L390.8,127.9 L391.2,128.2 L391.5,128.6 L391.9,128.9 L392.2,129.2 L392.6,129.6 L393.0,129.9 L393.3,130.2 L393.7,130.5 L394.1,130.9 L394.4,131.2 L394.8,131.5 L395.2,131.9 L395.5,132.2 L395.9,132.5 L396.3,132.8 L396.6,133.2 L397.0,133.5 L397.4,133.8 L397.7,134.1 L398.1,134.5 L398.5,134.8 L398.8,135.1 L399.2,135.4 L399.6,135.8 L399.9,136.1 L400.3,136.4 L400.7,136.7 L401.1,137.1 L401.4,137.4 L401.8,137.7 L402.2,138.0 L402.5,138.4 L402.9,138.7 L403.3,139.0 L403.6,139.3 L404.0,139.7 L404.4,140.0 L404.7,140.3 L405.1,140.7 L405.5,141.0 L405.8,141.3 L406.2,141.6 L406.6,142.0 L406.9,142.3 L407.3,142.6 L407.7,143.0 L408.0,143.3 L408.4,143.6 L408.8,143.9 L409.2,144.3 L409.5,144.6 L409.9,144.9 L410.3,145.3 L410.6,145.6 L411.0,145.9 L411.4,146.2 L411.7,146.6 L412.1,146.9 L412.5,147.2 L412.8,147.6 L413.2,147.9 L413.6,148.2 L413.9,148.5 L414.3,148.9 L414.7,149.2 L415.0,149.5 L415.4,149.8 L415.8,150.2 L416.2,150.5 L416.5,150.8 L416.9,151.1 L417.3,151.5 L417.6,151.8 L418.0,152.1 L418.4,152.5 L418.7,152.8 L419.1,153.1 L419.5,153.4 L419.9,153.8 L420.2,154.1 L420.6,154.4" stroke="#0000ff" stroke-width="2.05" fill="none"/>
<path d="M379.0,93.5 L379.4,93.9 L379.9,94.2 L380.3,94.6 L380.8,94.9 L381.2,95.3 L381.6,95.6 L382.1,96.0 L382.5,96.4 L383.0,96.7 L383.4,97.1 L383.8,97.4 L384.3,97.8 L384.7,98.1 L385.2,98.5 L385.6,98.8 L386.1,99.2 L386.5,99.5 L387.0,99.9 L387.4,100.2 L387.8,100.6 L388.3,100.9 L388.7,101.3 L389.2,101.6 L389.6,102.0 L390.1,102.3 L390.5,102.7 L390.9,103.1 L391.4,103.4 L391.8,103.8 L392.3,104.1 L392.7,104.5 L393.1,104.8 L393.6,105.2 L394.0,105.6 L394.4,105.9 L394.9,106.3 L395.3,106.7 L395.7,107.0 L396.1,107.4 L396.6,107.8 L397.0,108.2 L397.4,108.5 L397.8,108.9 L398.3,109.3 L398.7,109.7 L399.1,110.1 L399.5,110.4 L399.9,110.8 L400.3,111.2 L400.7,111.6 L401.2,112.0 L401.6,112.4 L402.0,112.8 L402.4,113.2 L402.8,113.6 L403.2,114.0 L403.6,114.4 L404.0,114.8 L404.4,115.2 L404.8,115.6 L405.2,116.0 L405.6,116.4 L406.0,116.8 L406.4,117.2 L406.8,117.6 L407.2,118.0 L407.6,118.4 L408.0,118.8 L408.4,119.2 L408.8,119.6 L409.2,120.0 L409.5,120.4 L409.9,120.8 L410.3,121.3 L410.7,121.7 L411.1,122.1 L411.5,122.5 L411.9,122.9 L412.2,123.3 L412.6,123.8 L413.0,124.2 L413.4,124.6 L413.8,125.0 L414.2,125.4 L414.6,125.8 L415.0,126.2 L415.4,126.6 L415.7,127.0 L416.1,127.4 L416.5,127.8 L416.9,128.2 L417.3,128.6 L417.8,129.0 L418.2,129.4 L418.6,129.8 L419.0,130.2 L419.4,130.6 L419.8,131.0 L420.2,131.4 L420.6,131.8 L421.0,132.1 L421.4,132.5 L421.9,132.9 L422.3,133.3 L422.7,133.7 L423.1,134.1 L423.5,134.4 L424.0,134.8 L424.4,135.2 L424.8,135.6 L425.2,135.9 L425.7,136.3 L426.1,136.7 L426.5,137.1 L426.9,137.5 L427.4,137.8 L427.8,138.2 L428.2,138.6 L428.6,138.9 L429.1,139.3 L429.5,139.7 L429.9,140.1 L430.3,140.4 L430.8,140.8 L431.2,141.2 L431.6,141.6 L432.0,141.9 L432.5,142.3 L432.9,142.7 L433.3,143.1 L433.7,143.4 L434.2,143.8 L434.6,144.2 L435.0,144.6 L435.4,144.9 L435.9,145.3 L436.3,145.7 L436.7,146.1 L437.1,146.5 L437.5,146.9 L437.9,147.2 L438.4,147.6 L438.8,148.0 L439.2,148.4 L439.6,148.8 L440.0,149.2 L440.4,149.6 L440.8,150.0 L441.2,150.4 L441.6,150.8 L442.0,151.1 L442.4,151.5 L442.8,152.0 L443.2,152.4 L443.6,152.8 L444.0,153.2 L444.4,153.6 L444.8,154.0 L445.2,154.4" stroke="#000000" stroke-width="2.05" fill="none"/>
</g>
<rect x="365.1" y="97.5" width="155.89999999999998" height="121.19999999999999" fill="none" stroke="#8c8c8c" stroke-width="1.5"/>
<path d="M444.3,218.7 v-1.6 M365.1,160.5 h1.6 M521.0,160.5 h-1.6" stroke="#444" stroke-width="0.8"/>
<text x="444.2" y="226.8" text-anchor="middle" font-family="'Liberation Sans', sans-serif" font-size="5.3" fill="#111" stroke="#111" stroke-width="0.15">400</text>
<text x="363" y="162.4" text-anchor="end" font-family="'Liberation Sans', sans-serif" font-size="5.3" fill="#111" stroke="#111" stroke-width="0.15">0</text>
<rect x="401.8" y="155.4" width="18.9" height="17.9" fill="#fbfbfb" stroke="#d6d6d6" stroke-width="0.6" rx="0.6"/>
<rect x="419.9" y="153.8" width="1.6" height="1.6" fill="#2a2a10"/>
<text font-family="'Liberation Sans', sans-serif" font-size="4.8" font-weight="bold"><tspan x="404.2" y="163.3" fill="#3a3a3a">X</tspan><tspan dx="1.1" fill="#1a94ff">376</tspan><tspan x="404.2" y="169.9" fill="#3a3a3a">Y</tspan><tspan dx="1.1" fill="#1a94ff">0.32</tspan></text>
<rect x="426.4" y="155.2" width="18.6" height="18.1" fill="#fbfbfb" stroke="#d6d6d6" stroke-width="0.6" rx="0.6"/>
<rect x="444.5" y="153.8" width="1.6" height="1.6" fill="#2a2a10"/>
<text font-family="'Liberation Sans', sans-serif" font-size="4.8" font-weight="bold"><tspan x="428.8" y="163.1" fill="#3a3a3a">X</tspan><tspan dx="1.1" fill="#1a94ff">401</tspan><tspan x="428.8" y="169.7" fill="#3a3a3a">Y</tspan><tspan dx="1.1" fill="#1a94ff">0.35</tspan></text>
<rect x="463.7" y="153.3" width="19" height="18" fill="#fbfbfb" stroke="#d6d6d6" stroke-width="0.6" rx="0.6"/>
<rect x="481.8" y="152.2" width="1.6" height="1.6" fill="#2a2a10"/>
<text font-family="'Liberation Sans', sans-serif" font-size="4.8" font-weight="bold"><tspan x="466.1" y="161.2" fill="#3a3a3a">X</tspan><tspan dx="1.1" fill="#1a94ff">439</tspan><tspan x="466.1" y="167.8" fill="#3a3a3a">Y</tspan><tspan dx="1.1" fill="#1a94ff">0.44</tspan></text>
<rect x="488.4" y="153.3" width="19.4" height="18.2" fill="#fbfbfb" stroke="#d6d6d6" stroke-width="0.6" rx="0.6"/>
<rect x="506.6" y="152.3" width="1.6" height="1.6" fill="#2a2a10"/>
<text font-family="'Liberation Sans', sans-serif" font-size="4.8" font-weight="bold"><tspan x="490.8" y="161.2" fill="#3a3a3a">X</tspan><tspan dx="1.1" fill="#1a94ff">465</tspan><tspan x="490.8" y="167.8" fill="#3a3a3a">Y</tspan><tspan dx="1.1" fill="#1a94ff">0.42</tspan></text>
</svg>
</body></html>
